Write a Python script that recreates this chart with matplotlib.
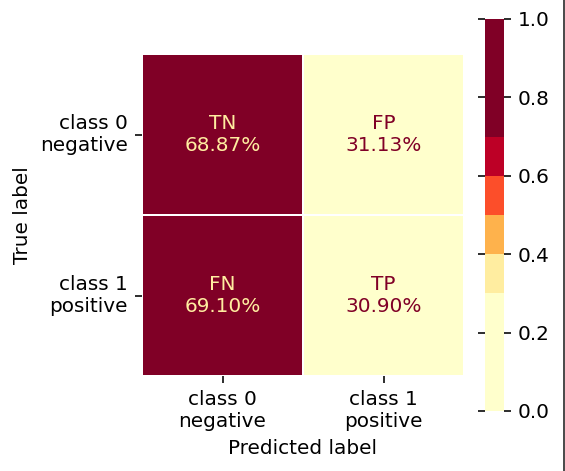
import numpy as np
import matplotlib
matplotlib.use("Agg")
import matplotlib.pyplot as plt
import seaborn as sns
from matplotlib.colors import ListedColormap
from matplotlib.lines import Line2D

# confusion matrix shares (row-normalised)
cell_names = [["TN", "FP"], ["FN", "TP"]]
cell_share = np.array([[0.6887, 0.3113],
                       [0.6910, 0.3090]])
tick_labels = ["class 0\nnegative", "class 1\npositive"]

# colours of the stepped colour bar, one per 0.1
step_colors = ["#ffffcc", "#ffffcc", "#ffffcc", "#ffeda0", "#feb24c",
               "#fc4e2a", "#bd0026", "#800026", "#800026", "#800026"]
cmap = ListedColormap(step_colors)

# min-max scaled values drive the colour
scaled = (cell_share - cell_share.min()) / (cell_share.max() - cell_share.min())
annot = np.array([[f"{cell_names[i][j]}\n{cell_share[i][j]*100:.2f}%" for j in range(2)]
                  for i in range(2)])

W, H = 565, 471
fig = plt.figure(figsize=(W/144, H/144), dpi=144)
ax = fig.add_axes([142/W, (H-376)/H, 322/W, 322/H])
cax = fig.add_axes([485/W, (H-411)/H, 19/W, 392/H])

sns.heatmap(scaled, ax=ax, cbar_ax=cax, cmap=cmap, vmin=0, vmax=1,
            annot=False, linewidths=1, linecolor="white",
            xticklabels=tick_labels, yticklabels=tick_labels)

for i in range(2):
    for j in range(2):
        col = "#ffeda0" if scaled[i, j] > 0.5 else "#800026"
        ax.text(j + 0.5, i + 0.5, annot[i, j], ha="center", va="center",
                color=col, fontsize=10)

ax.set_yticklabels(tick_labels, rotation=0, ha="right", multialignment="right")
ax.set_xticklabels(tick_labels, rotation=0, multialignment="center")
ax.set_xlabel("Predicted label")
ax.set_ylabel("True label")

cax.yaxis.set_ticks_position("both")
cax.tick_params(which="both", direction="out")
cax.set_yticks([0, 0.2, 0.4, 0.6, 0.8, 1.0])
for s in cax.spines.values():
    s.set_visible(False)

fig.add_artist(Line2D([564/W, 564/W], [0, 1], color="#222222", lw=0.8))

fig.savefig("out.png", dpi=144)
